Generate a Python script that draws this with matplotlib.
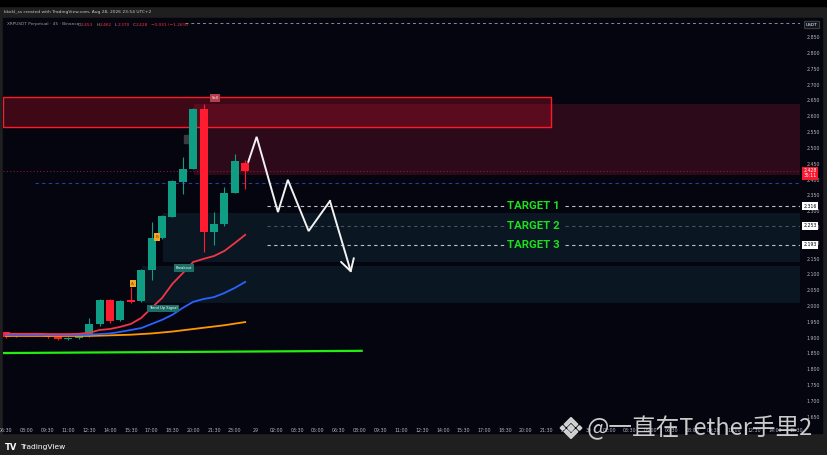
import matplotlib
matplotlib.use("Agg")
import matplotlib.pyplot as plt
from matplotlib.patches import Rectangle, Polygon
import numpy as np

W, H = 828, 455

# XRPUSDT 45m candles, 06:30 -> 23:45 (Aug 28)
opens  = [1.917, 1.904, 1.909, 1.907, 1.911, 1.902, 1.895, 1.899, 1.906, 1.943, 2.019, 1.956,
          2.018, 2.016, 2.114, 2.215, 2.282, 2.392, 2.434, 2.623, 2.234, 2.259, 2.358, 2.453]
highs  = [1.919, 1.912, 1.913, 1.912, 1.913, 1.904, 1.901, 1.910, 1.962, 2.022, 2.022, 2.020,
          2.060, 2.116, 2.266, 2.288, 2.398, 2.472, 2.625, 2.639, 2.297, 2.377, 2.481, 2.462]
lows   = [1.900, 1.902, 1.905, 1.904, 1.900, 1.893, 1.893, 1.897, 1.903, 1.938, 1.946, 1.952,
          2.008, 2.014, 2.082, 2.212, 2.280, 2.354, 2.432, 2.171, 2.193, 2.253, 2.356, 2.370]
closes = [1.902, 1.909, 1.907, 1.910, 1.902, 1.895, 1.899, 1.908, 1.943, 2.019, 1.953, 2.016,
          2.014, 2.114, 2.215, 2.285, 2.396, 2.434, 2.623, 2.234, 2.259, 2.358, 2.459, 2.428]

ema_fast = [1.912, 1.912, 1.912, 1.912, 1.911, 1.911, 1.911, 1.912, 1.915, 1.924, 1.927, 1.934,
            1.943, 1.962, 1.994, 2.025, 2.070, 2.104, 2.139, 2.149, 2.158, 2.174, 2.199, 2.225]
ema_mid  = [1.908, 1.908, 1.908, 1.908, 1.908, 1.908, 1.908, 1.908, 1.909, 1.911, 1.913, 1.918,
            1.924, 1.930, 1.943, 1.956, 1.972, 1.994, 2.013, 2.022, 2.028, 2.041, 2.057, 2.076]
ema_slow = [1.905, 1.905, 1.905, 1.905, 1.905, 1.905, 1.905, 1.905, 1.905, 1.906, 1.907, 1.908,
            1.909, 1.911, 1.913, 1.916, 1.919, 1.923, 1.927, 1.931, 1.935, 1.939, 1.944, 1.949]
green_x = [-0.3, 34.2]
green_y = [1.851, 1.858]

# projected zigzag path
path_x = [23.3, 24.1, 26.15, 27.1, 29.1, 31.15, 33.2]
path_y = [2.456, 2.535, 2.297, 2.399, 2.237, 2.332, 2.104]

target_names = ["TARGET 1", "TARGET 2", "TARGET 3"]
target_prices = [2.316, 2.253, 2.193]
last_price = 2.428

# zones: (x start bar, price low, price high)
supply_box = (-0.3, 2.566, 2.661)
supply_zone = (18.1, 2.415, 2.639)
demand_zones = [(15.1, 2.139, 2.294), (13.1, 2.009, 2.127)]

tick_pos = list(range(0, 77, 2))
tick_labels = ["06:30", "08:00", "09:30", "11:00", "12:30", "14:00", "15:30", "17:00", "18:30",
               "20:00", "21:30", "23:00", "29", "02:00", "03:30", "05:00", "06:30", "08:00",
               "09:30", "11:00", "12:30", "14:00", "15:30", "17:00", "18:30", "20:00", "21:30",
               "23:00", "30", "02:00", "03:30", "05:00", "06:30", "08:00", "09:30", "11:00",
               "12:30", "14:00", "15:30"]

BG = "#05050f"
FRAME = "#1f1f1f"
UP = "#0f9d84"
DOWN = "#ff1c30"
AXC = "#b2b5be"

fig = plt.figure(figsize=(W / 100, H / 100), dpi=100, facecolor=FRAME)

# background / frame in pixel coords
bg = fig.add_axes([0, 0, 1, 1], zorder=0)
bg.set_xlim(0, W); bg.set_ylim(H, 0); bg.axis("off")
bg.add_patch(Rectangle((0, 0), W, 6, color="#000000"))
bg.add_patch(Rectangle((3, 18), 819, 415, color=BG))

ax = fig.add_axes([3 / W, (H - 421) / H, 797 / W, (421 - 18) / H], zorder=1)
ax.set_facecolor("none")
ax.set_xlim(-0.29, 76.35)
ax.set_ylim(1.636, 2.911)
for s in ax.spines.values():
    s.set_visible(False)

# zones
for x0, lo, hi in demand_zones:
    ax.add_patch(Rectangle((x0, lo), 80, hi - lo, color="#0a1622", zorder=0.5, lw=0))
ax.add_patch(Rectangle((supply_zone[0], supply_zone[1]), 80, supply_zone[2] - supply_zone[1],
                       color="#d02048", alpha=0.2, zorder=0.6, lw=0))
ax.add_patch(Rectangle((supply_box[0], supply_box[1]), 52.7, supply_box[2] - supply_box[1],
                       facecolor="#c8102a", alpha=0.3, zorder=0.7, lw=0))
ax.add_patch(Rectangle((supply_box[0], supply_box[1]), 52.7, supply_box[2] - supply_box[1],
                       facecolor="none", edgecolor="#ff1a2a", zorder=0.8, lw=1.0))

# horizontal lines
ax.axhline(last_price, color="#8a1a2a", lw=0.8, ls=(0, (1, 2)), zorder=1)
ax.plot([2.8, 80], [2.389, 2.389], color="#2340a0", lw=0.8, ls=(0, (3, 3)), zorder=1)
ax.plot([17.2, 80], [2.896, 2.896], color="#8c8c8c", lw=0.7, ls=(0, (3, 3)), zorder=1)

line_cols = ["#c0c0c8", "#4a5060", "#c0c0c8"]
for name, p, c in zip(target_names, target_prices, line_cols):
    ax.plot([25.1, 48.0], [p, p], color=c, lw=0.8, ls=(0, (3, 3)), zorder=1)
    ax.plot([53.8, 80], [p, p], color=c, lw=0.8, ls=(0, (3, 3)), zorder=1)
    ax.text(50.75, p, name, color="#1fdd1f", fontsize=8.2, fontweight="bold",
            family=["Liberation Sans Narrow", "Roboto", "DejaVu Sans"],
            ha="center", va="center", zorder=5)

# candles
idx = np.arange(len(opens))
o = np.array(opens); c = np.array(closes)
cols = [UP if cc >= oo else DOWN for oo, cc in zip(opens, closes)]
ax.vlines(idx, lows, highs, colors=cols, lw=0.8, zorder=3)
ax.bar(idx, np.maximum(np.abs(c - o), 0.002), bottom=np.minimum(o, c), width=0.78,
       color=cols, zorder=3.2, lw=0)

# moving averages
ax.plot(green_x, green_y, color="#22ee11", lw=1.6, zorder=4)
ax.plot(idx, ema_slow, color="#ff9800", lw=1.3, zorder=4)
ax.plot(idx, ema_mid, color="#2962ff", lw=1.3, zorder=4)
ax.plot(idx, ema_fast, color="#f23645", lw=1.3, zorder=4)

# signal labels
ax.text(20.1, 2.658, "Sell", fontsize=2.6, color="white", ha="center", va="center", zorder=6,
        bbox=dict(boxstyle="square,pad=0.5", fc="#b2404f", ec="none"))
ax.add_patch(Rectangle((17.1, 2.516), 0.6, 0.025, color="#3a3a42", zorder=2))
ax.text(17.07, 2.120, "Breakout", fontsize=2.6, color="white", ha="center", va="center", zorder=6,
        bbox=dict(boxstyle="square,pad=0.5", fc="#1a6e66", ec="none"))
ax.text(15.1, 1.992, "Trend Up Signal", fontsize=2.6, color="white", ha="center", va="center", zorder=6,
        bbox=dict(boxstyle="square,pad=0.5", fc="#1a6e66", ec="none"))
ax.text(12.2, 2.070, "A", fontsize=3, color="#7a4a00", ha="center", va="center", zorder=6,
        bbox=dict(boxstyle="square,pad=0.4", fc="#f5a623", ec="none"))
ax.text(14.5, 2.218, "B", fontsize=3, color="#7a4a00", ha="center", va="center", zorder=6,
        bbox=dict(boxstyle="square,pad=0.4", fc="#f5a623", ec="none"))

# zigzag projection
ax.plot(path_x[:-1], path_y[:-1], color="#f2f2f2", lw=1.4, zorder=6, solid_joinstyle="miter")
ax.annotate("", xy=(path_x[-1], path_y[-1]), xytext=(path_x[-2], path_y[-2]),
            arrowprops=dict(arrowstyle="->,head_length=0.7,head_width=0.4", color="#f2f2f2",
                            lw=1.4, shrinkA=0, shrinkB=0, mutation_scale=12), zorder=6)

# axes ticks
yt = np.arange(1.65, 2.851, 0.05)
ax.yaxis.tick_right()
ax.set_yticks(yt)
ax.set_yticklabels([f"{v:.3f}" for v in yt])
ax.set_xticks(tick_pos)
ax.set_xticklabels(tick_labels)
ax.tick_params(axis="y", length=0, pad=5, labelsize=3.4, labelcolor=AXC)
ax.tick_params(axis="x", length=0, pad=5, labelsize=3.4, labelcolor=AXC)
for lab in ax.get_yticklabels():
    lab.set_horizontalalignment("left")

# price scale boxes
ytr = ax.get_yaxis_transform()
for p in target_prices:
    ax.text(1.004, p, f"{p:.3f}", transform=ytr, fontsize=3.3, color="black", ha="left",
            va="center", clip_on=False, zorder=7,
            bbox=dict(boxstyle="square,pad=0.35", fc="white", ec="none"))
ax.text(1.004, last_price - 0.008, f"{last_price:.3f}\n35:11", transform=ytr, fontsize=3.3,
        color="white", ha="left", va="center", linespacing=1.0, clip_on=False, zorder=7,
        bbox=dict(boxstyle="square,pad=0.35", fc="#f7172e", ec="none"))

# header
top = fig.add_axes([0, 0, 1, 1], zorder=5)
top.set_xlim(0, W); top.set_ylim(H, 0); top.axis("off")
top.text(4, 12.5, "kkokl_ss created with TradingView.com, Aug 28, 2026 23:54 UTC+2",
         fontsize=3.2, color="#c8c8c8", va="center")
hdr = [(7, "XRPUSDT Perpetual · 45 · Binance", "#9a9a9a"), (78, "O", "#9a9a9a"),
       (81, "2.453", "#f23645"), (97, "H", "#9a9a9a"), (100, "2.462", "#f23645"),
       (115, "L", "#9a9a9a"), (117.5, "2.370", "#f23645"), (133, "C", "#9a9a9a"),
       (135.5, "2.428", "#f23645"), (151, "−0.031 (−1.26%)", "#f23645")]
for x, s, col in hdr:
    top.text(x, 24.5, s, fontsize=3.1, color=col, va="center")
top.text(812, 25, "USDT", fontsize=3.2, color="white", ha="center", va="center",
         bbox=dict(boxstyle="round,pad=0.4,rounding_size=0.3", fc="#131722", ec="#555555", lw=0.5))

# footer logo
top.text(5, 447, "TV", fontsize=6, color="white", fontweight="bold", va="center")
top.text(20, 447, "TradingView", fontsize=5.4, color="white", va="center")

# watermark
wm = "#dcdcdc"
cx, cy = 571, 428
top.add_patch(Polygon([(cx, cy - 3.3), (cx + 3.3, cy), (cx, cy + 3.3), (cx - 3.3, cy)], color=wm, alpha=0.92))
for dx in (-8.5, 8.5):
    top.add_patch(Polygon([(cx + dx, cy - 2.3), (cx + dx + 2.3, cy), (cx + dx, cy + 2.3),
                           (cx + dx - 2.3, cy)], color=wm, alpha=0.92))
for sg in (-1, 1):
    top.add_patch(Polygon([(cx, cy + sg * 10.5), (cx + 6.8, cy + sg * 3.7), (cx + 4.6, cy + sg * 1.5),
                           (cx, cy + sg * 6.1), (cx - 4.6, cy + sg * 1.5), (cx - 6.8, cy + sg * 3.7)],
                          color=wm, alpha=0.92))
top.text(587, 428, "@一直在Tether手里2", fontsize=17, color=wm, alpha=0.92, va="center",
         family=["Noto Sans CJK SC", "DejaVu Sans"])

fig.savefig("out.png", dpi=100, facecolor=FRAME)
